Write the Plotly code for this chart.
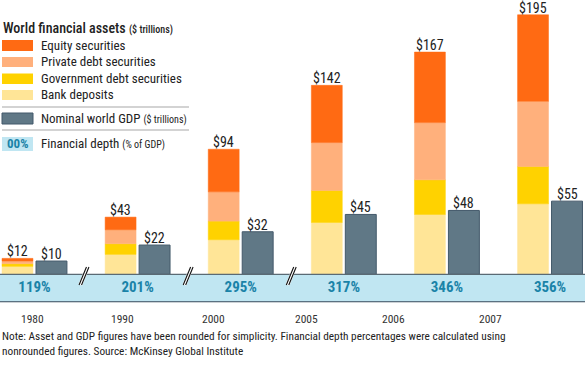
import plotly.graph_objects as go

# ---- data ----
years = ["1980", "1990", "2000", "2005", "2006", "2007"]
bank_deposits = [6, 15, 26, 39, 45, 53]
government_debt = [2, 8, 14, 24, 26, 28]
private_debt = [2, 10.5, 22, 36, 43, 49]
equity = [2, 9.5, 32, 43, 53, 65]
total_assets = [12, 43, 94, 142, 167, 195]
gdp = [10, 22, 32, 45, 48, 55]
depth_pct = ["119%", "201%", "295%", "317%", "346%", "356%"]
year_label_pos = [-0.015, 0.85, 1.74, 2.64, 3.48, 4.42]
break_pos = [0.48, 1.49, 2.49]

FONT = "Roboto Condensed, DejaVu Sans Condensed, sans-serif"
W, H = 585, 365
pos = list(range(len(years)))

C_EQ = "#ff6a13"
C_PRIV = "#ffb07c"
C_GOV = "#ffd200"
C_BANK = "#ffe597"
C_GDP = "#607886"
C_GDP_LINE = "#43596a"
C_BAND = "#c0e6f2"
C_TEAL = "#1a83a8"
C_TEXT = "#222222"

fig = go.Figure()

# stacked asset bars
layers = [("Bank deposits", bank_deposits, C_BANK),
          ("Government debt securities", government_debt, C_GOV),
          ("Private debt securities", private_debt, C_PRIV),
          ("Equity securities", equity, C_EQ)]
base = [0] * len(years)
for name, vals, col in layers:
    fig.add_trace(go.Bar(x=pos, y=vals, base=list(base), offset=-0.315, width=0.30,
                         marker=dict(color=col, line=dict(color=col, width=0.5)),
                         name=name, showlegend=False, hoverinfo="skip"))
    base = [b + v for b, v in zip(base, vals)]

fig.add_trace(go.Bar(x=pos, y=gdp, offset=0.0145, width=0.30,
                     marker=dict(color=C_GDP, line=dict(color=C_GDP_LINE, width=1)),
                     name="Nominal world GDP", showlegend=False, hoverinfo="skip"))

annotations = []
# value labels
for p, v in zip(pos, total_assets):
    annotations.append(dict(x=p - 0.165, y=v, xref="x", yref="y", text="$%d" % v,
                            showarrow=False, xanchor="center", yanchor="bottom", yshift=-3,
                            font=dict(family=FONT, size=14, color=C_TEXT)))
for p, v in zip(pos, gdp):
    annotations.append(dict(x=p + 0.165, y=v, xref="x", yref="y", text="$%d" % v,
                            showarrow=False, xanchor="center", yanchor="bottom", yshift=-3,
                            font=dict(family=FONT, size=14, color=C_TEXT)))

# financial depth band
shapes = []
shapes.append(dict(type="rect", xref="paper", yref="y", x0=0, x1=1, y0=-20.6, y1=0,
                   fillcolor=C_BAND, line=dict(width=0), layer="below"))
shapes.append(dict(type="line", xref="paper", yref="y", x0=0, x1=1, y0=0, y1=0,
                   line=dict(color="#5a6a74", width=1.2)))
shapes.append(dict(type="line", xref="paper", yref="y", x0=0, x1=1, y0=-20.6, y1=-20.6,
                   line=dict(color="#34495a", width=1.2)))
for b in break_pos:
    shapes.append(dict(type="line", xref="x", yref="y", x0=b - 0.036, x1=b + 0.036,
                       y0=-8.0, y1=5.5, line=dict(color="white", width=4)))
    for d in (-0.012, 0.012):
        shapes.append(dict(type="line", xref="x", yref="y", x0=b - 0.036 + d, x1=b + 0.036 + d,
                           y0=-8.0, y1=5.5, line=dict(color="#111", width=1.1)))

fig.add_trace(go.Scatter(x=pos, y=[-10.3] * len(pos), mode="text", text=depth_pct,
                         textposition="middle center",
                         textfont=dict(family=FONT, size=15, color=C_TEAL, weight="bold"),
                         showlegend=False, hoverinfo="skip"))

for yl, xp in zip(years, year_label_pos):
    annotations.append(dict(x=xp, y=-33.6, xref="x", yref="y", text=yl, showarrow=False,
                            font=dict(family=FONT, size=11.5, color="#333"),
                            xanchor="center", yanchor="middle"))

# legend (custom drawn)
def py(p):
    return 1 - p / H

def px(p):
    return p / W

legend_rows = [("Equity securities", C_EQ, 40, 51),
               ("Private debt securities", C_PRIV, 57, 67),
               ("Government debt securities", C_GOV, 73.5, 84),
               ("Bank deposits", C_BANK, 90, 100)]
for label, col, t, bt in legend_rows:
    shapes.append(dict(type="rect", xref="paper", yref="paper", x0=px(2), x1=px(33),
                       y0=py(bt), y1=py(t), fillcolor=col, line=dict(width=0)))
    annotations.append(dict(x=px(39), y=py((t + bt) / 2), xref="paper", yref="paper",
                            text=label, showarrow=False, xanchor="left", yanchor="middle",
                            font=dict(family=FONT, size=13, color=C_TEXT)))

annotations.append(dict(x=px(1), y=py(28), xref="paper", yref="paper",
                        text="World financial assets <span style='font-size:10px'>($ trillions)</span>",
                        showarrow=False, xanchor="left", yanchor="middle",
                        font=dict(family=FONT, size=14, color=C_TEXT, weight=500)))

for ysep in (107, 130):
    shapes.append(dict(type="line", xref="paper", yref="paper", x0=px(2), x1=px(189),
                       y0=py(ysep), y1=py(ysep), line=dict(color="#c4c4c4", width=1.5)))

shapes.append(dict(type="rect", xref="paper", yref="paper", x0=px(2), x1=px(33),
                   y0=py(124), y1=py(113), fillcolor=C_GDP, line=dict(color=C_GDP_LINE, width=1)))
annotations.append(dict(x=px(39), y=py(118.5), xref="paper", yref="paper",
                        text="Nominal world GDP <span style='font-size:10px'>($ trillions)</span>",
                        showarrow=False, xanchor="left", yanchor="middle",
                        font=dict(family=FONT, size=13, color=C_TEXT)))

shapes.append(dict(type="rect", xref="paper", yref="paper", x0=px(2), x1=px(33),
                   y0=py(151), y1=py(137), fillcolor=C_BAND, line=dict(width=0)))
annotations.append(dict(x=px(17.5), y=py(144), xref="paper", yref="paper", text="<b>00%</b>",
                        showarrow=False, xanchor="center", yanchor="middle",
                        font=dict(family=FONT, size=13, color=C_TEAL)))
annotations.append(dict(x=px(39), y=py(144), xref="paper", yref="paper",
                        text="Financial depth <span style='font-size:10px'>(% of GDP)</span>",
                        showarrow=False, xanchor="left", yanchor="middle",
                        font=dict(family=FONT, size=13, color=C_TEXT)))

# note
annotations.append(dict(x=0, y=py(343.5), xref="paper", yref="paper",
                        text="Note: Asset and GDP figures have been rounded for simplicity. Financial depth percentages were calculated using<br>nonrounded figures. Source: McKinsey Global Institute",
                        showarrow=False, xanchor="left", yanchor="middle", align="left",
                        font=dict(family=FONT, size=11.3, color=C_TEXT)))

fig.update_layout(
    width=W, height=H, margin=dict(l=0, r=0, t=0, b=0),
    paper_bgcolor="white", plot_bgcolor="white",
    barmode="overlay", showlegend=False,
    xaxis=dict(range=[-0.3346, 5.339], visible=False, fixedrange=True),
    yaxis=dict(range=[-68.1, 206.1], visible=False, fixedrange=True),
    shapes=shapes, annotations=annotations,
    font=dict(family=FONT),
)

fig.write_html("out.html", config={"displayModeBar": False},
               post_script="document.body.style.margin='0';")
